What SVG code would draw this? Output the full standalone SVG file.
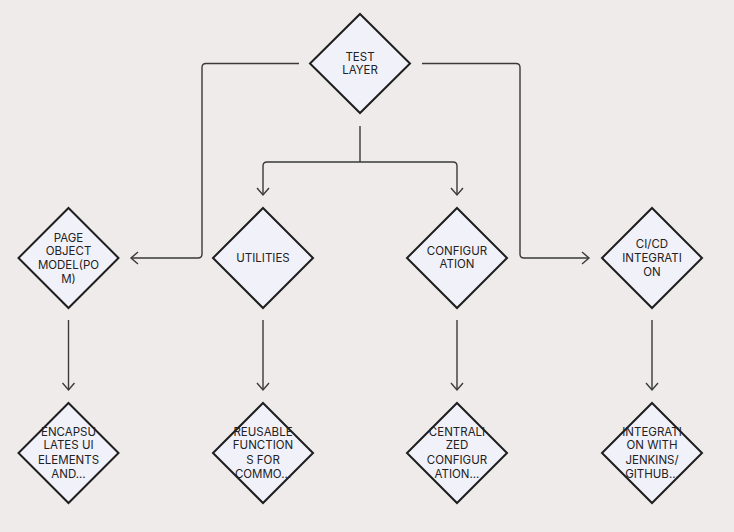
<svg xmlns="http://www.w3.org/2000/svg" width="734" height="532" viewBox="0 0 734 532">
<defs>
<style>
.d{fill:#F1F1FA;stroke:#1e1e1e;stroke-width:2;stroke-linejoin:miter}
.t{font-family:Inter,"Liberation Sans",sans-serif;font-size:11.5px;fill:#222;text-anchor:middle}
.c{fill:none;stroke:#3a3a3a;stroke-width:1.4}
</style>
<marker id="a" markerUnits="userSpaceOnUse" markerWidth="12" markerHeight="14" refX="7" refY="6" orient="auto" viewBox="-1 -1 10 14">
<path d="M0,0 L7,6 L0,12" fill="none" stroke="#3a3a3a" stroke-width="1.4"/>
</marker>
</defs>
<rect width="734" height="532" fill="#EFEBEA"/>
<g id="connectors">
<path class="c" marker-end="url(#a)" d="M299 63.5 H206 Q202 63.5 202 67.5 V254 Q202 258 198 258 H131"/>
<path class="c" marker-end="url(#a)" d="M422 63.5 H516 Q520 63.5 520 67.5 V254 Q520 258 524 258 H589"/>
<path class="c" d="M360 126 V162"/>
<path class="c" marker-end="url(#a)" d="M360 162 H267 Q263 162 263 166 V195"/>
<path class="c" marker-end="url(#a)" d="M360 162 H453 Q457 162 457 166 V195"/>
<path class="c" marker-end="url(#a)" d="M68.5 320 V390"/>
<path class="c" marker-end="url(#a)" d="M263 320 V390"/>
<path class="c" marker-end="url(#a)" d="M457 320 V390"/>
<path class="c" marker-end="url(#a)" d="M652 320 V390"/>
</g>
<g id="test-layer">
<polygon class="d" points="360,14 410,63.5 360,113 310,63.5"/>
<text class="t"><tspan x="360" y="60.5">TEST</tspan><tspan x="360" y="74">LAYER</tspan></text>
</g>
<g id="pom">
<polygon class="d" points="68.5,208 118.5,258 68.5,308 18.5,258"/>
<text class="t"><tspan x="68.5" y="241.5">PAGE</tspan><tspan x="68.5" y="255">OBJECT</tspan><tspan x="68.5" y="268.5">MODEL(PO</tspan><tspan x="68.5" y="282.5">M)</tspan></text>
</g>
<g id="utilities">
<polygon class="d" points="263,208 313,258 263,308 213,258"/>
<text class="t"><tspan x="263" y="262.3">UTILITIES</tspan></text>
</g>
<g id="configuration">
<polygon class="d" points="457,208 507,258 457,308 407,258"/>
<text class="t"><tspan x="457" y="255">CONFIGUR</tspan><tspan x="457" y="268">ATION</tspan></text>
</g>
<g id="cicd">
<polygon class="d" points="652,208 702,258 652,308 602,258"/>
<text class="t"><tspan x="652" y="247.5">CI/CD</tspan><tspan x="652" y="262">INTEGRATI</tspan><tspan x="652" y="275.5">ON</tspan></text>
</g>
<g id="pom-detail">
<polygon class="d" points="68.5,403 118.5,453 68.5,503 18.5,453"/>
<text class="t"><tspan x="68.5" y="436">ENCAPSU</tspan><tspan x="68.5" y="449">LATES UI</tspan><tspan x="68.5" y="463.5">ELEMENTS</tspan><tspan x="68.5" y="477.5">AND...</tspan></text>
</g>
<g id="utilities-detail">
<polygon class="d" points="263,403 313,453 263,503 213,453"/>
<text class="t"><tspan x="263" y="436">REUSABLE</tspan><tspan x="263" y="449">FUNCTION</tspan><tspan x="263" y="463.5">S FOR</tspan><tspan x="263" y="477.5">COMMO...</tspan></text>
</g>
<g id="configuration-detail">
<polygon class="d" points="457,403 507,453 457,503 407,453"/>
<text class="t"><tspan x="457" y="436">CENTRALI</tspan><tspan x="457" y="449">ZED</tspan><tspan x="457" y="463.5">CONFIGUR</tspan><tspan x="457" y="477.5">ATION...</tspan></text>
</g>
<g id="cicd-detail">
<polygon class="d" points="652,403 702,453 652,503 602,453"/>
<text class="t"><tspan x="652" y="436">INTEGRATI</tspan><tspan x="652" y="449">ON WITH</tspan><tspan x="652" y="463.5">JENKINS/</tspan><tspan x="652" y="477.5">GITHUB...</tspan></text>
</g>
</svg>
